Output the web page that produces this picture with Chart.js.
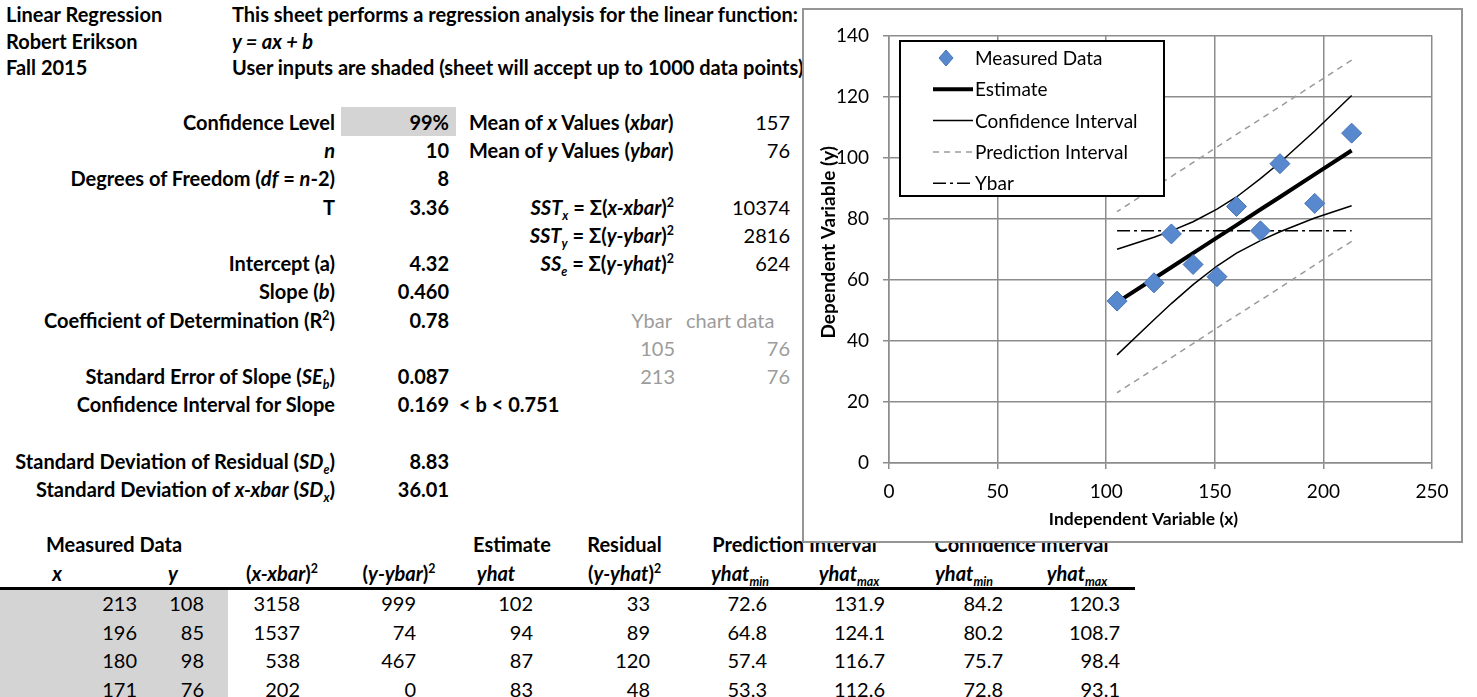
<!DOCTYPE html>
<html><head><meta charset="utf-8">
<script src="https://cdn.jsdelivr.net/npm/chart.js@4.4.1/dist/chart.umd.min.js"></script>
<style>
body{margin:0;width:1477px;height:697px;position:relative;overflow:hidden;background:#fff;font-family:Lato,"Open Sans",sans-serif;color:#000;}
.t{position:absolute;white-space:nowrap;font-size:20px;line-height:24px;font-weight:bold;}
.n{font-weight:normal;}
.g{color:#9c9c9c;font-weight:normal;}
sub,sup{font-size:0.62em;line-height:0;}
#chartbox{position:absolute;left:802px;top:8px;width:661px;height:535px;border:2px solid #959595;box-sizing:border-box;background:#fff;z-index:2;}
#c{position:absolute;left:0;top:0;}
.box{position:absolute;background:#d4d4d4;}
</style></head>
<body>
<div class="box" style="left:341px;top:107px;width:115px;height:29px;"></div>
<div class="box" style="left:0;top:590px;width:228px;height:107px;"></div>
<div style="position:absolute;left:0;top:587px;width:1135px;height:3px;background:#000;"></div>
<div id="chartbox"><canvas id="c" width="657" height="531"></canvas></div>
<script>
// ---- chart data ----
const xs       = [213, 196, 180, 171, 160, 151, 140, 130, 122, 105];
const ys       = [108, 85, 98, 76, 84, 61, 65, 75, 59, 53];
const estimate = [102.3, 94.5, 87.1, 83.0, 77.9, 73.8, 68.7, 64.1, 60.4, 52.6];
const ciUpper  = [120.3, 108.7, 98.4, 93.1, 87.1, 83.1, 79.0, 76.0, 73.9, 70.0];
const ciLower  = [84.2, 80.2, 75.7, 72.8, 68.7, 64.5, 58.4, 52.2, 46.9, 35.4];
const piUpper  = [131.9, 124.1, 116.7, 112.6, 107.6, 103.5, 98.4, 93.8, 90.1, 82.3];
const piLower  = [72.6, 64.8, 57.4, 53.3, 48.3, 44.2, 39.1, 34.5, 30.8, 23.0];
const ybarX    = [105, 213];
const ybarY    = [76, 76];
const xTicks   = [0, 50, 100, 150, 200, 250];
const yTicks   = [0, 20, 40, 60, 80, 100, 120, 140];

// ---- table data ----
const tX    = [213, 196, 180, 171];
const tY    = [108, 85, 98, 76];
const tDx2  = [3158, 1537, 538, 202];
const tDy2  = [999, 74, 467, 0];
const tHat  = [102, 94, 87, 83];
const tRes2 = [33, 89, 120, 48];
const tPmin = ['72.6', '64.8', '57.4', '53.3'];
const tPmax = ['131.9', '124.1', '116.7', '112.6'];
const tCmin = ['84.2', '80.2', '75.7', '72.8'];
const tCmax = ['120.3', '108.7', '98.4', '93.1'];

function put(html, x, yc, align, cls){
  const d = document.createElement('div');
  d.className = 't' + (cls ? ' ' + cls : '');
  d.innerHTML = html;
  d.style.top = (yc - 12) + 'px';
  if (align === 'r'){ d.style.left = (x - 500) + 'px'; d.style.width = '500px'; d.style.textAlign = 'right'; }
  else if (align === 'c'){ d.style.left = (x - 250) + 'px'; d.style.width = '500px'; d.style.textAlign = 'center'; }
  else d.style.left = x + 'px';
  document.body.appendChild(d);
}
// header
put('Linear Regression', 6, 14); put('Robert Erikson', 6, 41); put('Fall 2015', 6, 67);
put('This sheet performs a regression analysis for the linear function:', 232, 14);
put('<i>y = ax + b</i>', 232, 41);
put('User inputs are shaded (sheet will accept up to 1000 data points)', 232, 67);
// parameters
const L = 335, V = 449;
put('Confidence Level', L, 121.5, 'r'); put('99%', V, 121.5, 'r');
put('<i>n</i>', L, 150, 'r'); put('10', V, 150, 'r');
put('Degrees of Freedom (<i>df</i> = <i>n</i>-2)', L, 178, 'r'); put('8', V, 178, 'r');
put('T', L, 206.5, 'r'); put('3.36', V, 206.5, 'r');
put('Intercept (a)', L, 263, 'r'); put('4.32', V, 263, 'r');
put('Slope (<i>b</i>)', L, 291, 'r'); put('0.460', V, 291, 'r');
put('Coefficient of Determination (R<sup>2</sup>)', L, 319.5, 'r'); put('0.78', V, 319.5, 'r');
put('Standard Error of Slope (<i>SE<sub>b</sub></i>)', L, 376, 'r'); put('0.087', V, 376, 'r');
put('Confidence Interval for Slope', L, 404, 'r'); put('0.169', V, 404, 'r'); put('&lt; b &lt; 0.751', 459, 404);
put('Standard Deviation of Residual (<i>SD<sub>e</sub></i>)', L, 461, 'r'); put('8.83', V, 461, 'r');
put('Standard Deviation of <i>x-xbar</i> (<i>SD<sub>x</sub></i>)', L, 489, 'r'); put('36.01', V, 489, 'r');
put('Mean of <i>x</i> Values (<i>xbar</i>)', 469, 121.5); put('157', 790, 121.5, 'r', 'n');
put('Mean of <i>y</i> Values (<i>ybar</i>)', 469, 150); put('76', 790, 150, 'r', 'n');
put('<i>SST<sub>x</sub></i> = &Sigma;(<i>x-xbar</i>)<sup>2</sup>', 674, 206.5, 'r'); put('10374', 790, 206.5, 'r', 'n');
put('<i>SST<sub>y</sub></i> = &Sigma;(<i>y-ybar</i>)<sup>2</sup>', 674, 235, 'r'); put('2816', 790, 235, 'r', 'n');
put('<i>SS<sub>e</sub></i> = &Sigma;(<i>y-yhat</i>)<sup>2</sup>', 674, 263, 'r'); put('624', 790, 263, 'r', 'n');
put('Ybar', 672, 319.5, 'r', 'g'); put('chart data', 686, 319.5, 'l', 'g');
put(String(ybarX[0]), 675, 348, 'r', 'g'); put(String(ybarY[0]), 790, 348, 'r', 'g');
put(String(ybarX[1]), 675, 376, 'r', 'g'); put(String(ybarY[1]), 790, 376, 'r', 'g');
// bottom table headers
put('Measured Data', 114, 544, 'c');
put('Estimate', 512, 544, 'c'); put('Residual', 624.5, 544, 'c');
put('Prediction Interval', 794.5, 544, 'c'); put('Confidence Interval', 1021.5, 544, 'c');
const cc = [57, 173, 282, 399, 496, 624.5, 740, 849, 964, 1077];
const hdr = ['<i>x</i>','<i>y</i>','(<i>x-xbar</i>)<sup>2</sup>','(<i>y-ybar</i>)<sup>2</sup>','<i>yhat</i>','(<i>y-yhat</i>)<sup>2</sup>',
  '<i>yhat<sub>min</sub></i>','<i>yhat<sub>max</sub></i>','<i>yhat<sub>min</sub></i>','<i>yhat<sub>max</sub></i>'];
hdr.forEach((h,i)=>put(h, cc[i], 573, 'c'));
const rEdge = [137, 204, 300, 416, 533, 650, 767, 885, 1003, 1120];
const cols = [tX, tY, tDx2, tDy2, tHat, tRes2, tPmin, tPmax, tCmin, tCmax];
const rowY = [603, 632, 660, 689];
cols.forEach((col,ci)=>col.forEach((v,ri)=>put(String(v), rEdge[ci], rowY[ri], 'r', 'n')));

// ---- chart ----
const pts = (xa, ya) => xa.map((x,i)=>({x:x, y:ya[i]}));
const lineDs = (label, ya, color, width, dash, xa) => ({label, data: pts(xa || xs, ya), showLine:true, borderColor:color,
  backgroundColor:color, borderWidth:width, borderDash:dash || [], pointRadius:0, tension:0, fill:false});
const datasets = [
  {label:'Measured Data', data: pts(xs, ys), pointStyle:'rectRot', pointRadius:10, backgroundColor:'#5889cf', borderColor:'#4472b4', borderWidth:1, showLine:false},
  lineDs('Estimate', estimate, '#000', 4),
  lineDs('Confidence Interval', ciUpper, '#000', 1.5),
  lineDs('Confidence Interval (lower)', ciLower, '#000', 1.5),
  lineDs('Prediction Interval', piUpper, '#9a9a9a', 1.5, [6,5]),
  lineDs('Prediction Interval (lower)', piLower, '#9a9a9a', 1.5, [6,5]),
  lineDs('Ybar', ybarY, '#000', 1.5, [13,4,3,4], ybarX)
];
const legendItems = [0, 1, 2, 4, 6];
const boxLegend = {
  id:'boxLegend',
  afterDraw(chart){
    const c = chart.ctx, ds = chart.data.datasets;
    const bx = 96, by = 31, bw = 264, bh = 155;
    c.save();
    c.fillStyle = '#fff'; c.fillRect(bx, by, bw, bh);
    c.strokeStyle = '#000'; c.lineWidth = 2; c.setLineDash([]); c.strokeRect(bx, by, bw, bh);
    c.font = '19px Lato'; c.textBaseline = 'middle'; c.fillStyle = '#000';
    legendItems.forEach((di, k)=>{
      const d = ds[di], y = by + 17 + k * 31.3;
      if (!d.showLine){
        c.fillStyle = d.backgroundColor; c.strokeStyle = d.borderColor; c.lineWidth = 1;
        c.beginPath(); c.moveTo(142, y-8); c.lineTo(149, y); c.lineTo(142, y+8); c.lineTo(135, y); c.closePath(); c.fill(); c.stroke();
      } else {
        c.strokeStyle = d.borderColor; c.lineWidth = d.borderWidth; c.setLineDash(d.borderDash);
        c.beginPath(); c.moveTo(129, y); c.lineTo(169, y); c.stroke(); c.setLineDash([]);
      }
      c.fillStyle = '#000';
      c.fillText(d.label, 171, y + 1);
    });
    c.restore();
  }
};
const NB = '\u00a0';
new Chart(document.getElementById('c'), {
  type:'scatter',
  data:{datasets},
  options:{
    responsive:false, animation:false, devicePixelRatio:1,
    layout:{padding:{top:23, right:29, left:0, bottom:0}},
    plugins:{legend:{display:false}, tooltip:{enabled:false}},
    scales:{
      x:{type:'linear', min:0, max:250,
        afterBuildTicks(s){ s.ticks = xTicks.map(v=>({value:v})); },
        ticks:{padding:11, color:'#000', font:{family:'Lato', size:19}},
        grid:{color:'#8c8c8c', lineWidth:1.5, tickLength:6},
        border:{color:'#8c8c8c', width:1.5},
        title:{display:true, text:'Independent Variable (x)' + NB.repeat(8), color:'#000', font:{family:'Lato', size:17.5, weight:'bold'}, padding:{top:0, bottom:11}},
        afterFit(s){ s.height = 78; }},
      y:{type:'linear', min:0, max:140,
        afterBuildTicks(s){ s.ticks = yTicks.map(v=>({value:v})); },
        ticks:{padding:14, color:'#000', font:{family:'Lato', size:19}},
        grid:{color:'#8c8c8c', lineWidth:1.5, tickLength:6},
        border:{color:'#8c8c8c', width:1.5},
        title:{display:true, text:NB.repeat(3) + 'Dependent Variable (y)', color:'#000', font:{family:'Lato', size:19, weight:'bold'}, padding:{top:13, bottom:0}},
        afterFit(s){ s.width = 85; }}
    }
  },
  plugins:[boxLegend]
});
</script>
</body></html>
